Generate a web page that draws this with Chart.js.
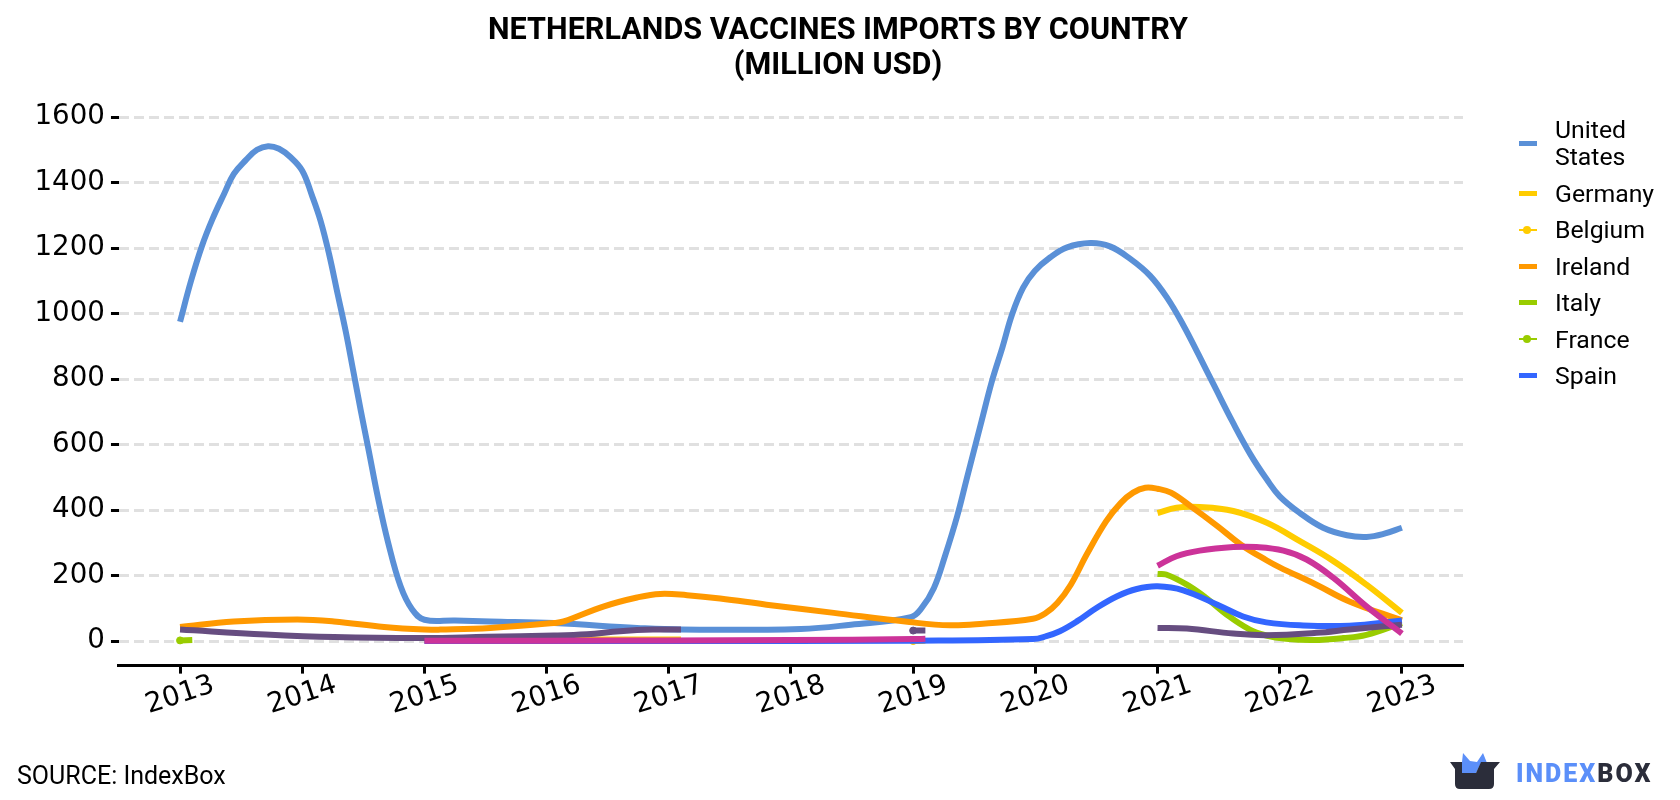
<!DOCTYPE html>
<html>
<head>
<meta charset="utf-8">
<title>Netherlands vaccines imports by country</title>
<script src="https://cdn.jsdelivr.net/npm/chart.js@4/dist/chart.umd.min.js"></script>
<style>
    html, body { margin: 0; padding: 0; background: #fff; overflow: hidden; }
    #pagina { position: relative; width: 1680px; height: 800px; font-family: Roboto, sans-serif; color: #000; }
    #caixaGrafico { position: absolute; left: 0; top: 0; width: 1674px; height: 800px; }
    #titulo { position: absolute; left: 0; top: 11px; width: 1676px; text-align: center; font-size: 30.6px; line-height: 35px; font-weight: 700; }
    #legenda { position: absolute; left: 1519px; top: 116px; font-size: 24.8px; line-height: 27px; }
    .item { display: flex; align-items: center; margin-bottom: 9.5px; }
    .icone { position: relative; width: 18px; height: 5px; margin-right: 18px; flex: none; }
    .icone.ponto { height: 2px; }
    .icone.ponto i { position: absolute; left: 4px; top: -3px; width: 8px; height: 8px; border-radius: 50%; background: inherit; }
    #fonte { position: absolute; left: 17px; top: 762px; font-size: 25px; line-height: 28px; }
    #logo { position: absolute; left: 1450px; top: 750px; }
    #marca { position: absolute; left: 1516px; top: 759px; font-size: 25px; line-height: 30px; font-weight: 900; letter-spacing: 2px; color: #2b2d3a; }
    #marca span { color: #5b8ff9; }
</style>
</head>
<body>
<div id="pagina">
    <div id="caixaGrafico"><canvas id="graficoImportacoes"></canvas></div>
    <div id="titulo">NETHERLANDS VACCINES IMPORTS BY COUNTRY<br>(MILLION USD)</div>
    <div id="legenda"></div>
    <div id="fonte">SOURCE: IndexBox</div>
    <svg id="logo" width="52" height="42" viewBox="0 0 52 42">
        <path d="M12 23 V12 L13 3 L20 11 L27 12 L33 3 L37 13 H31 L26 23 Z" fill="#5b8ff9"/>
        <path d="M0 12 H12 V23 H26 L31 12 H50 L44 19 V34 Q44 39 39 39 H10 Q5 39 5 34 V19 Z" fill="#2b2d3a"/>
    </svg>
    <div id="marca"><span>INDEX</span>BOX</div>
</div>
<script>
const anosEixo = [2013, 2014, 2015, 2016, 2017, 2018, 2019, 2020, 2021, 2022, 2023];
const ticksY = [0, 200, 400, 600, 800, 1000, 1200, 1400, 1600];

const anosEua = [2013, 2013.09, 2013.18, 2013.265, 2013.36, 2013.44, 2013.54, 2013.63, 2013.72, 2013.81, 2013.905, 2014, 2014.08, 2014.15, 2014.22, 2014.29, 2014.355, 2014.415, 2014.48, 2014.545, 2014.62, 2014.7, 2014.805, 2014.9, 2015, 2015.25, 2015.54, 2016.06, 2016.74, 2017.1, 2018.08, 2018.49, 2018.98, 2019.07, 2019.17, 2019.26, 2019.36, 2019.44, 2019.56, 2019.645, 2019.73, 2019.81, 2019.9, 2019.995, 2020.12, 2020.26, 2020.45, 2020.61, 2020.78, 2020.94, 2021.08, 2021.21, 2021.335, 2021.47, 2021.61, 2021.76, 2021.895, 2022, 2022.165, 2022.355, 2022.55, 2022.71, 2022.85, 2023];
const valoresEua = [975, 1100, 1207, 1288, 1365, 1426, 1469, 1500, 1511, 1503, 1477, 1436, 1360, 1283, 1181, 1059, 947, 830, 702, 580, 437, 305, 167, 96, 65, 63, 60, 55, 40, 35, 37, 50, 73, 101, 162, 259, 381, 498, 672, 794, 896, 998, 1079, 1130, 1171, 1202, 1215, 1205, 1166, 1115, 1047, 965, 875, 775, 672, 570, 493, 442, 391, 346, 323, 318, 327, 346];

const anosAlemanha = [2021, 2021.155, 2021.345, 2021.62, 2021.895, 2022.165, 2022.44, 2022.71, 2023];
const valoresAlemanha = [391, 407, 409, 397, 361, 305, 244, 172, 86];

// a Bélgica só aparece em dois trechos curtos, o null separa os dois
const anosBelgica = [2015, 2016, 2017, 2017.1, 2018, 2019, 2019.1];
const valoresBelgica = [4, 4, 5, 5, null, 0, 1];

const anosIrlanda = [2013, 2013.44, 2013.96, 2014.26, 2014.67, 2015, 2015.13, 2015.54, 2016.06, 2016.14, 2016.47, 2016.74, 2016.93, 2017.15, 2017.42, 2017.8, 2018.35, 2018.97, 2019.3, 2019.57, 2019.98, 2020.08, 2020.18, 2020.29, 2020.42, 2020.58, 2020.7, 2020.8, 2020.9, 2021, 2021.11, 2021.27, 2021.49, 2021.68, 2021.895, 2022, 2022.3, 2022.57, 2023];
const valoresIrlanda = [43, 60, 66, 60, 43, 35, 35, 40, 55, 60, 106, 133, 144, 140, 130, 111, 86, 58, 48, 53, 68, 84, 116, 172, 264, 366, 422, 453, 468, 465, 453, 412, 351, 295, 246, 225, 172, 121, 63];

const anosItalia = [2021, 2021.07, 2021.24, 2021.4, 2021.565, 2021.755, 2021.89, 2022.05, 2022.27, 2022.52, 2022.71, 2023];
const valoresItalia = [205, 203, 172, 131, 81, 35, 17, 7, 3, 9, 19, 55];

const anosFranca = [2013, 2013.1];
const valoresFranca = [2, 3];

const anosEspanha = [2015, 2017, 2019, 2019.98, 2020.09, 2020.2, 2020.34, 2020.5, 2020.67, 2020.83, 2021, 2021.21, 2021.49, 2021.7, 2021.89, 2022.165, 2022.57, 2023];
const valoresEspanha = [0, 0, 1, 6, 15, 30, 60, 101, 137, 159, 167, 155, 111, 75, 57, 48, 47, 63];

// duas séries extras que ficam fora da legenda
const anosRoxo = [2013, 2013.7, 2014.26, 2015, 2015.51, 2016.06, 2016.33, 2016.6, 2016.87, 2017.1, 2018, 2019, 2019.1, 2020, 2021, 2021.24, 2021.62, 2021.89, 2022.3, 2022.57, 2023];
const valoresRoxo = [35, 20, 12, 9, 13, 17, 21, 30, 35, 35, null, 32, 32, null, 40, 38, 23, 18, 25, 35, 50];

const anosMagenta = [2015, 2016, 2017, 2018, 2019, 2019.1, 2020, 2021, 2021.155, 2021.345, 2021.62, 2021.81, 2022.03, 2022.22, 2022.44, 2022.71, 2023];
const valoresMagenta = [1, 1, 2, 3, 6, 7, null, 230, 259, 276, 287, 287, 276, 249, 193, 106, 23];

function montarPontos(anos, valores) {
    return anos.map((ano, i) => ({ x: ano, y: valores[i] }));
}

function criarSerie(nome, anos, valores, cor, indicesPonto = []) {
    return {
        label: nome,
        data: montarPontos(anos, valores),
        borderColor: cor,
        backgroundColor: cor,
        borderWidth: 6,
        tension: 0.4,
        pointRadius: ctx => indicesPonto.includes(ctx.dataIndex) ? 3.5 : 0,
        pointBorderWidth: 1,
        pointHoverRadius: 0,
        borderCapStyle: 'butt'
    };
}

const series = [
    criarSerie('United States', anosEua, valoresEua, '#5a90d7'),
    criarSerie('Germany', anosAlemanha, valoresAlemanha, '#ffcc00'),
    criarSerie('Belgium', anosBelgica, valoresBelgica, '#ffcc00', [5]),
    criarSerie('Ireland', anosIrlanda, valoresIrlanda, '#ff9900'),
    criarSerie('Italy', anosItalia, valoresItalia, '#99cc00'),
    criarSerie('France', anosFranca, valoresFranca, '#99cc00', [0]),
    criarSerie('Spain', anosEspanha, valoresEspanha, '#3366ff'),
    criarSerie('', anosRoxo, valoresRoxo, '#664d80', [11]),
    criarSerie('', anosMagenta, valoresMagenta, '#cc3399')
];
// o Chart.js desenha primeiro a maior ordem, a última série fica por cima
series.forEach((serie, i) => { serie.order = series.length - i; });

function montarLegenda() {
    const legenda = document.getElementById('legenda');
    series.filter(s => s.label).forEach(serie => {
        const item = document.createElement('div');
        item.className = 'item';
        const comPonto = serie.label === 'Belgium' || serie.label === 'France';
        const linhas = serie.label === 'United States' ? 'United<br>States' : serie.label;
        item.innerHTML = `<div class="icone${comPonto ? ' ponto' : ''}" style="background:${serie.borderColor}">${comPonto ? '<i></i>' : ''}</div><div>${linhas}</div>`;
        legenda.appendChild(item);
    });
}

montarLegenda();

new Chart(document.getElementById('graficoImportacoes'), {
    type: 'line',
    data: { datasets: series },
    options: {
        responsive: true,
        maintainAspectRatio: false,
        animation: false,
        layout: { padding: { left: 28.5, right: 211, top: 117, bottom: 61 } },
        plugins: {
            legend: { display: false },
            tooltip: { enabled: false }
        },
        scales: {
            x: {
                type: 'linear',
                min: 2012.5,
                max: 2023.5,
                afterBuildTicks: escala => { escala.ticks = anosEixo.map(ano => ({ value: ano })); },
                // rótulo girado centrado no tick, em vez de alinhado à direita
                beforeUpdate: escala => { escala._getXAxisLabelAlignment = () => 'center'; },
                border: { color: '#000', width: 3 },
                grid: { drawOnChartArea: false, tickColor: '#000', tickWidth: 3, tickLength: 8 },
                ticks: {
                    autoSkip: false,
                    minRotation: 18,
                    maxRotation: 18,
                    color: '#000',
                    padding: 6,
                    font: { family: 'DejaVu Sans', size: 27.7 },
                    callback: valor => String(valor)
                }
            },
            y: {
                min: -75,
                max: 1600,
                afterBuildTicks: escala => { escala.ticks = ticksY.map(v => ({ value: v })); },
                border: { display: false, dash: [10, 5] },
                grid: { color: '#e0e0e0', lineWidth: 3, tickColor: '#000', tickWidth: 3, tickLength: 8, tickBorderDash: [] },
                ticks: {
                    color: '#000',
                    padding: 6,
                    font: { family: 'DejaVu Sans', size: 27.7 },
                    callback: valor => String(valor)
                }
            }
        }
    }
});
</script>
</body>
</html>
